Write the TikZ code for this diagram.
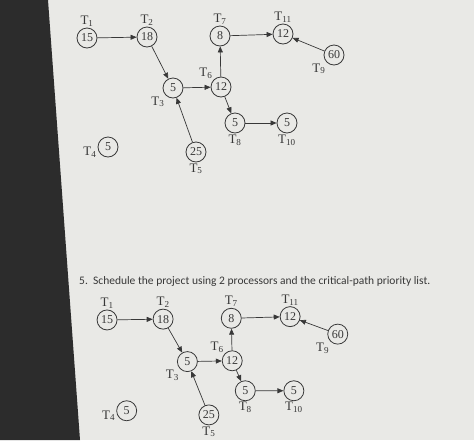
\documentclass[tikz,border=0pt]{standalone}
\usepackage{fontspec}
\setmainfont{Liberation Serif}
\newfontfamily\headfont{Carlito}
\usetikzlibrary{arrows.meta}

\definecolor{ink}{HTML}{383838}
\definecolor{paper}{HTML}{E9E9E6}
\definecolor{bezel}{HTML}{2C2C2C}

% one copy of the task graph, node names get the prefix #1
\newcommand{\taskgraph}[1]{%
	\node [task, label={above:T\textsubscript{1}}] (#1t1) at (87,38) {15};
	\node [task, label={above:T\textsubscript{2}}] (#1t2) at (147,37) {18};
	\node [task, label={below left:T\textsubscript{3}}] (#1t3) at (173,88) {5};
	\node [task, label={[yshift=-5pt]left:T\textsubscript{4}}] (#1t4) at (108,147) {5};
	\node [task, label={below:T\textsubscript{5}}] (#1t5) at (196,152) {25};
	\node [task, label={above left:T\textsubscript{6}}] (#1t6) at (221,87) {12};
	\node [task, label={above:T\textsubscript{7}}] (#1t7) at (220,36) {8};
	\node [task, label={below:T\textsubscript{8}}] (#1t8) at (235,123) {5};
	\node [task, label={below left:T\textsubscript{9}}] (#1t9) at (334,55) {60};
	\node [task, label={below:T\textsubscript{10}}] (#1t10) at (287,123) {5};
	\node [task, label={above:T\textsubscript{11}}] (#1t11) at (283,34) {12};

	\draw [dep] (#1t1) -- (#1t2);
	\draw [dep] (#1t2) -- (#1t3);
	\draw [dep] (#1t3) -- (#1t6);
	\draw [dep] (#1t5) -- (#1t3);
	\draw [dep] (#1t6) -- (#1t7);
	\draw [dep] (#1t6) -- (#1t8);
	\draw [dep] (#1t7) -- (#1t11);
	\draw [dep] (#1t9) -- (#1t11);
	\draw [dep] (#1t8) -- (#1t10);
}

\begin{document}
\begin{tikzpicture}[x=1pt, y=-1pt,
	task/.style={circle, draw=ink, text=ink, line width=0.8pt, minimum size=20pt,
		inner sep=0pt, font=\fontsize{12}{13}\selectfont, label distance=0pt},
	every label/.style={text=ink, inner sep=1pt, font=\fontsize{13}{14}\selectfont},
	dep/.style={draw=ink, line width=0.7pt, -{Triangle[length=6pt, width=5pt]}}]
	\useasboundingbox (0,0) rectangle (474,440);
	\fill [paper] (0,0) rectangle (474,440);
	\fill [bezel] (0,0) -- (48,0) -- (80,440) -- (0,440) -- cycle;

	% screen, upper copy
	\taskgraph{a}

	\node [anchor=base west, inner sep=0pt, text=ink, font=\headfont\fontsize{11.5}{13}\selectfont] (head) at (79,284)
		{5.\ \ Schedule the project using 2 processors and the critical-path priority list.};

	% screen, lower copy (seen at a slant)
	\begin{scope}[shift={(25.8,288.3)}, xscale=0.934, yscale=0.833]
		\taskgraph{b}
	\end{scope}
\end{tikzpicture}
\end{document}
